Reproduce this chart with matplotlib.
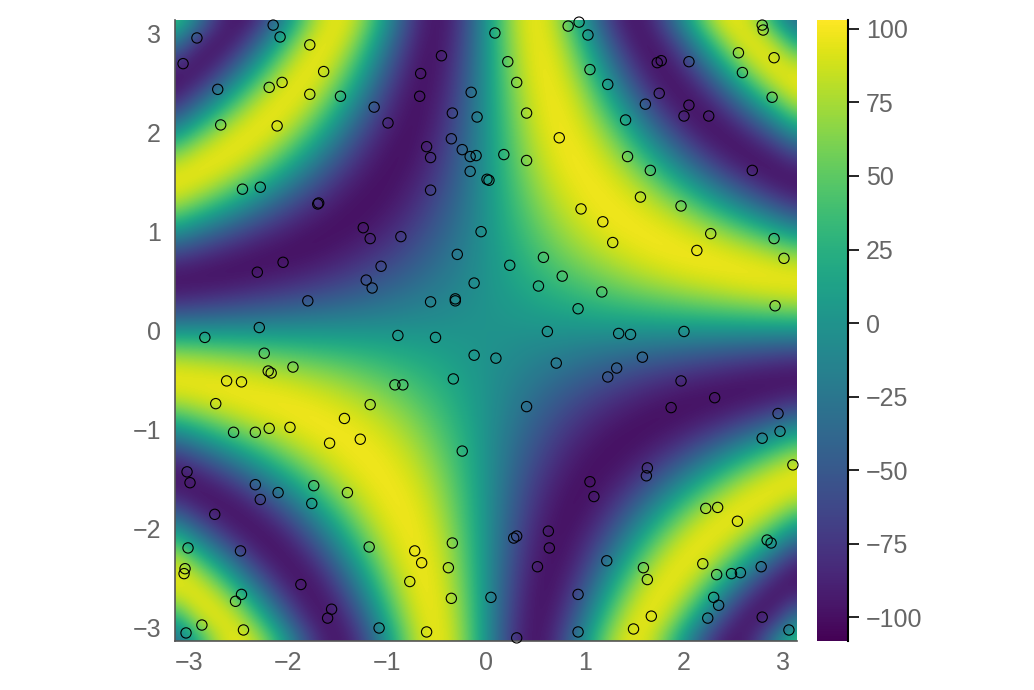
import numpy as np
import matplotlib
matplotlib.use("Agg")
import matplotlib.pyplot as plt

# field values on a coarser grid than the original cells
# rows run from y = +pi down to y = -pi, columns from x = -pi to x = +pi
field = [
    [43, -12, -77, -100, -82, -29, 35, 85, 99, 72, 15, -49, -92, -97, -61, 0, 61, 97, 92, 49, -15, -72, -99, -85, -35, 29, 82, 100, 77, 12, -43],
    [-12, -74, -99, -89, -45, 14, 69, 98, 92, 52, -7, -63, -96, -94, -58, 0, 58, 94, 96, 63, 7, -52, -92, -98, -69, -14, 45, 89, 99, 74, 12],
    [-77, -99, -91, -53, 1, 55, 91, 99, 75, 28, -29, -76, -99, -91, -54, 0, 54, 91, 99, 76, 29, -28, -75, -99, -91, -55, -1, 53, 91, 99, 77],
    [-100, -89, -53, -3, 47, 85, 100, 88, 52, 2, -49, -86, -100, -87, -50, 0, 50, 87, 100, 86, 49, -2, -52, -88, -100, -85, -47, 3, 53, 89, 100],
    [-82, -45, 1, 47, 83, 99, 93, 66, 23, -24, -67, -94, -99, -82, -46, 0, 46, 82, 99, 94, 67, 24, -23, -66, -93, -99, -83, -47, -1, 45, 82],
    [-29, 14, 55, 85, 99, 95, 72, 36, -7, -49, -81, -98, -97, -77, -42, 0, 42, 77, 97, 98, 81, 49, 7, -36, -72, -95, -99, -85, -55, -14, 29],
    [35, 69, 91, 100, 93, 72, 40, 2, -37, -70, -92, -100, -93, -71, -38, 0, 38, 71, 93, 100, 92, 70, 37, -2, -40, -72, -93, -100, -91, -69, -35],
    [85, 98, 99, 88, 66, 36, 2, -33, -63, -86, -98, -99, -87, -65, -34, 0, 34, 65, 87, 99, 98, 86, 63, 33, -2, -36, -66, -88, -99, -98, -85],
    [99, 92, 75, 52, 23, -7, -37, -63, -84, -96, -100, -94, -80, -58, -30, 0, 30, 58, 80, 94, 100, 96, 84, 63, 37, 7, -23, -52, -75, -92, -99],
    [72, 52, 28, 2, -24, -49, -70, -86, -96, -100, -97, -87, -71, -50, -26, 0, 26, 50, 71, 87, 97, 100, 96, 86, 70, 49, 24, -2, -28, -52, -72],
    [15, -7, -29, -49, -67, -81, -92, -98, -100, -97, -89, -77, -61, -42, -22, 0, 22, 42, 61, 77, 89, 97, 100, 98, 92, 81, 67, 49, 29, 7, -15],
    [-49, -63, -76, -86, -94, -98, -100, -99, -94, -87, -77, -65, -50, -34, -17, 0, 17, 34, 50, 65, 77, 87, 94, 99, 100, 98, 94, 86, 76, 63, 49],
    [-92, -96, -99, -100, -99, -97, -93, -87, -80, -71, -61, -50, -38, -26, -13, 0, 13, 26, 38, 50, 61, 71, 80, 87, 93, 97, 99, 100, 99, 96, 92],
    [-97, -94, -91, -87, -82, -77, -71, -65, -58, -50, -42, -34, -26, -17, -9, 0, 9, 17, 26, 34, 42, 50, 58, 65, 71, 77, 82, 87, 91, 94, 97],
    [-61, -58, -54, -50, -46, -42, -38, -34, -30, -26, -22, -17, -13, -9, -4, 0, 4, 9, 13, 17, 22, 26, 30, 34, 38, 42, 46, 50, 54, 58, 61],
    [0, 0, 0, 0, 0, 0, 0, 0, 0, 0, 0, 0, 0, 0, 0, 0, 0, 0, 0, 0, 0, 0, 0, 0, 0, 0, 0, 0, 0, 0, 0],
    [61, 58, 54, 50, 46, 42, 38, 34, 30, 26, 22, 17, 13, 9, 4, 0, -4, -9, -13, -17, -22, -26, -30, -34, -38, -42, -46, -50, -54, -58, -61],
    [97, 94, 91, 87, 82, 77, 71, 65, 58, 50, 42, 34, 26, 17, 9, 0, -9, -17, -26, -34, -42, -50, -58, -65, -71, -77, -82, -87, -91, -94, -97],
    [92, 96, 99, 100, 99, 97, 93, 87, 80, 71, 61, 50, 38, 26, 13, 0, -13, -26, -38, -50, -61, -71, -80, -87, -93, -97, -99, -100, -99, -96, -92],
    [49, 63, 76, 86, 94, 98, 100, 99, 94, 87, 77, 65, 50, 34, 17, 0, -17, -34, -50, -65, -77, -87, -94, -99, -100, -98, -94, -86, -76, -63, -49],
    [-15, 7, 29, 49, 67, 81, 92, 98, 100, 97, 89, 77, 61, 42, 22, 0, -22, -42, -61, -77, -89, -97, -100, -98, -92, -81, -67, -49, -29, -7, 15],
    [-72, -52, -28, -2, 24, 49, 70, 86, 96, 100, 97, 87, 71, 50, 26, 0, -26, -50, -71, -87, -97, -100, -96, -86, -70, -49, -24, 2, 28, 52, 72],
    [-99, -92, -75, -52, -23, 7, 37, 63, 84, 96, 100, 94, 80, 58, 30, 0, -30, -58, -80, -94, -100, -96, -84, -63, -37, -7, 23, 52, 75, 92, 99],
    [-85, -98, -99, -88, -66, -36, -2, 33, 63, 86, 98, 99, 87, 65, 34, 0, -34, -65, -87, -99, -98, -86, -63, -33, 2, 36, 66, 88, 99, 98, 85],
    [-35, -69, -91, -100, -93, -72, -40, -2, 37, 70, 92, 100, 93, 71, 38, 0, -38, -71, -93, -100, -92, -70, -37, 2, 40, 72, 93, 100, 91, 69, 35],
    [29, -14, -55, -85, -99, -95, -72, -36, 7, 49, 81, 98, 97, 77, 42, 0, -42, -77, -97, -98, -81, -49, -7, 36, 72, 95, 99, 85, 55, 14, -29],
    [82, 45, -1, -47, -83, -99, -93, -66, -23, 24, 67, 94, 99, 82, 46, 0, -46, -82, -99, -94, -67, -24, 23, 66, 93, 99, 83, 47, 1, -45, -82],
    [100, 89, 53, 3, -47, -85, -100, -88, -52, -2, 49, 86, 100, 87, 50, 0, -50, -87, -100, -86, -49, 2, 52, 88, 100, 85, 47, -3, -53, -89, -100],
    [77, 99, 91, 53, -1, -55, -91, -99, -75, -28, 29, 76, 99, 91, 54, 0, -54, -91, -99, -76, -29, 28, 75, 99, 91, 55, 1, -53, -91, -99, -77],
    [12, 74, 99, 89, 45, -14, -69, -98, -92, -52, 7, 63, 96, 94, 58, 0, -58, -94, -96, -63, -7, 52, 92, 98, 69, 14, -45, -89, -99, -74, -12],
    [-43, 12, 77, 100, 82, 29, -35, -85, -99, -72, -15, 49, 92, 97, 61, 0, -61, -97, -92, -49, 15, 72, 99, 85, 35, -29, -82, -100, -77, -12, 43],
]

# scatter points
pts_x = [-2.15, -2.92, -2.08, -3.06, -1.78, -1.64, -2.71, -2.19, -2.06, -1.78, -1.47, -2.68, -2.11, -1.13, -0.99,
         -2.46, -2.28, -1.70, -1.69, -1.24, -1.17, -0.86, -2.31, -2.05, -1.80, -1.06, -1.21, -1.15, -2.29, -2.84,
         -0.89, -0.51, -2.24, -2.20, -2.17, -1.95, -2.62, -2.47, -0.92, -0.84, -1.17, -2.73, -2.55, -2.33, -2.19,
         -1.98, -1.43, -1.58, -1.27, -3.02, -2.99, -2.33, -2.28, -2.10, -1.74, -1.40, -2.74, -1.76, -3.01, -2.48,
         -1.18, -3.04, -3.05, -2.47, -2.53, -1.87, -1.56, -1.60, -2.87, -2.45, -3.03, -1.08, -0.60,
         0.09, 0.22, 0.31, -0.45, -0.66, -0.67, -0.15, -0.34, -0.09, -0.35, -0.60, 0.41, -0.24, -0.10, -0.16,
         -0.56, -0.16, -0.56, 0.01, 0.03, 0.18, 0.41, -0.05, -0.29, -0.12, -0.31, -0.31, -0.56, 0.24, 0.58,
         0.53, 0.77, 0.62, -0.12, 0.10, 0.71, -0.33, 0.41, -0.24, -0.34, -0.38, -0.35, 0.05, 0.52, 0.63, 0.64,
         0.31, 0.28, -0.72, -0.65, -0.77, 0.31,
         0.94, 0.83, 1.03, 1.05, 1.23, 0.74, 1.61, 1.77, 1.73, 1.75, 2.05, 2.05, 2.00, 2.25, 1.41, 1.43, 1.66,
         1.56, 0.96, 1.18, 1.28, 1.97, 2.27, 2.13, 2.69, 2.79, 2.80, 2.91, 2.55, 2.59, 2.89, 2.91, 3.01, 2.92,
         1.17, 0.93, 1.34, 1.46, 2.00, 1.58, 1.32, 1.23, 1.97, 1.87, 2.31, 2.95, 2.97, 2.79, 3.10, 1.63, 1.62,
         1.05, 1.09, 2.34, 2.22, 2.54, 2.84, 2.88, 1.22, 1.59, 1.63, 2.19, 2.33, 2.78, 2.48, 2.57, 2.30, 2.35,
         2.24, 1.67, 1.49, 0.93, 0.93, 2.79, 3.06]
pts_y = [3.09, 2.96, 2.97, 2.70, 2.89, 2.62, 2.44, 2.46, 2.51, 2.39, 2.37, 2.08, 2.07, 2.26, 2.10,
         1.43, 1.45, 1.28, 1.29, 1.04, 0.93, 0.95, 0.59, 0.69, 0.30, 0.65, 0.51, 0.43, 0.03, -0.07,
         -0.05, -0.07, -0.23, -0.41, -0.43, -0.37, -0.51, -0.52, -0.55, -0.55, -0.75, -0.74, -1.03, -1.03, -0.99,
         -0.98, -0.89, -1.14, -1.10, -1.43, -1.54, -1.56, -1.71, -1.64, -1.57, -1.64, -1.86, -1.75, -2.20, -2.23,
         -2.19, -2.41, -2.46, -2.67, -2.74, -2.57, -2.82, -2.91, -2.98, -3.03, -3.06, -3.01, -3.05,
         3.01, 2.72, 2.51, 2.78, 2.60, 2.37, 2.41, 2.20, 2.16, 1.94, 1.86, 2.20, 1.83, 1.77, 1.76,
         1.75, 1.61, 1.42, 1.53, 1.52, 1.78, 1.72, 1.00, 0.77, 0.48, 0.32, 0.30, 0.29, 0.66, 0.74,
         0.45, 0.55, -0.01, -0.25, -0.28, -0.33, -0.49, -0.77, -1.22, -2.15, -2.40, -2.71, -2.70, -2.39, -2.03, -2.20,
         -2.08, -2.10, -2.23, -2.35, -2.54, -3.11,
         3.12, 3.08, 2.99, 2.64, 2.49, 1.95, 2.29, 2.73, 2.71, 2.40, 2.72, 2.28, 2.17, 2.17, 2.13, 1.76, 1.62,
         1.35, 1.23, 1.10, 0.89, 1.26, 0.98, 0.81, 1.62, 3.09, 3.04, 2.76, 2.81, 2.61, 2.36, 0.93, 0.73, 0.25,
         0.39, 0.22, -0.03, -0.04, -0.01, -0.27, -0.38, -0.47, -0.51, -0.78, -0.68, -0.84, -1.02, -1.09, -1.36, -1.39, -1.47,
         -1.53, -1.68, -1.79, -1.80, -1.93, -2.12, -2.15, -2.33, -2.40, -2.52, -2.36, -2.47, -2.39, -2.46, -2.45, -2.70, -2.78,
         -2.91, -2.89, -3.02, -2.67, -3.05, -2.90, -3.03]

x_ticks = [-3, -2, -1, 0, 1, 2, 3]
y_ticks = [-3, -2, -1, 0, 1, 2, 3]
cbar_ticks = [-100, -75, -50, -25, 0, 25, 50, 75, 100]
clim = (-108, 103)

plt.rcParams['font.family'] = ['Liberation Sans', 'DejaVu Sans']
text_color = '#666666'
W, H = 1034, 690

fig = plt.figure(figsize=(W / 100, H / 100), dpi=100)
ax = fig.add_axes([175 / W, 1 - 641 / H, 622 / W, 621 / H])
half = np.pi / 30  # half a grid step, so samples sit on the axis limits
im = ax.imshow(np.array(field), cmap='viridis', vmin=clim[0], vmax=clim[1], aspect='auto',
               interpolation='bicubic', interpolation_stage='data',
               extent=[-np.pi - half, np.pi + half, -np.pi - half, np.pi + half])
ax.scatter(pts_x, pts_y, s=55, facecolors='none', edgecolors='black', linewidths=0.8, clip_on=False, zorder=3)
ax.set_xlim(-np.pi, np.pi)
ax.set_ylim(-np.pi, np.pi)
ax.set_xticks(x_ticks)
ax.set_yticks(y_ticks)
ax.tick_params(length=0, labelsize=18, labelcolor=text_color)
ax.tick_params(axis='x', pad=7)
ax.tick_params(axis='y', pad=10)
ax.spines[['top', 'right']].set_visible(False)
ax.spines[['left', 'bottom']].set_color('#555555')
ax.spines[['left', 'bottom']].set_linewidth(1.2)

cax = fig.add_axes([817 / W, 1 - 641 / H, 31 / W, 621 / H])
cb = fig.colorbar(im, cax=cax)
cb.set_ticks(cbar_ticks)
cb.outline.set_visible(False)
cax.tick_params(length=8, width=1.2, color='black', labelsize=18, labelcolor=text_color, pad=5)
cax.spines['right'].set_visible(True)
cax.spines['right'].set_color('black')
cax.spines['right'].set_linewidth(1.5)

fig.savefig('out.png', dpi=100)
